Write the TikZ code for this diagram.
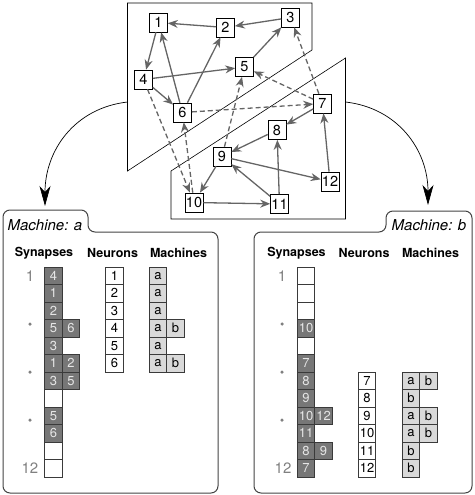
\documentclass[tikz,border=0pt]{standalone}
\usepackage{fontspec}
\setmainfont{TeX Gyre Heros}
\usetikzlibrary{arrows.meta}
\definecolor{edgegray}{HTML}{656565}
\definecolor{synfill}{HTML}{777777}
\definecolor{syntext}{HTML}{E6E6E6}
\definecolor{macfill}{HTML}{D9D9D9}
\definecolor{idxgray}{HTML}{808080}
\definecolor{panelline}{HTML}{444444}
\definecolor{cellline}{HTML}{3A3A3A}
\begin{document}
\begin{tikzpicture}[x=1pt,y=-1pt,
  gnode/.style={draw=black, fill=white, line width=0.6pt, minimum width=18pt, minimum height=19pt, inner sep=0pt, font=\fontsize{14.5}{15}\selectfont},
  edge/.style={draw=edgegray, line width=1.3pt, -{Stealth[length=10pt,width=8pt]}},
  dedge/.style={edge, dash pattern=on 5pt off 3pt},
  region/.style={draw=black, line width=0.6pt},
  panel/.style={draw=panelline, line width=1pt, rounded corners=7pt},
  bigarrow/.style={draw=black, line width=0.7pt, -{Stealth[length=20pt,width=11pt,inset=6pt]}},
  cellbase/.style={draw=cellline, line width=0.6pt, minimum width=17.5pt, minimum height=17.5pt, inner sep=0pt, font=\fontsize{13}{13}\selectfont},
  syncell/.style={cellbase, fill=synfill, text=syntext},
  emptycell/.style={cellbase, fill=white},
  neucell/.style={cellbase, fill=white},
  maccell/.style={cellbase, fill=macfill},
  hdr/.style={font=\bfseries\fontsize{12.5}{13}\selectfont, inner sep=0pt},
  mlabel/.style={font=\itshape\fontsize{15}{16}\selectfont, inner sep=0pt},
  idx/.style={text=idxgray, font=\fontsize{15}{15}\selectfont, inner sep=0pt},
  dotn/.style={circle, fill=idxgray, inner sep=0pt, minimum size=3.5pt}
]
\useasboundingbox (0,0) rectangle (474,495);

% regions of the graph
\draw[region] (127.5,3) -- (312,3) -- (312,50) -- (127.5,171) -- cycle;
\draw[region] (345.5,58) -- (345.5,219) -- (171,219) -- (171,171) -- cycle;

% graph nodes
\node[gnode] (n1) at (158.5,22.5) {1};
\node[gnode] (n2) at (225.5,27.5) {2};
\node[gnode] (n3) at (290.5,17.5) {3};
\node[gnode] (n4) at (143.5,79.5) {4};
\node[gnode] (n5) at (244.5,67) {5};
\node[gnode] (n6) at (182.5,112.5) {6};
\node[gnode] (n7) at (322.5,103.5) {7};
\node[gnode] (n8) at (277,130) {8};
\node[gnode] (n9) at (222,156.5) {9};
\node[gnode] (n10) at (194,202.5) {10};
\node[gnode] (n11) at (279.5,204) {11};
\node[gnode] (n12) at (330,181.5) {12};

% solid edges
\draw[edge] (n2) -- (n1);
\draw[edge] (n3) -- (n2);
\draw[edge] (n1) -- (n4);
\draw[edge] (n4) -- (n5);
\draw[edge] (n4) -- (n6);
\draw[edge] (n6) -- (n1);
\draw[edge] (n6) -- (n2);
\draw[edge] (n5) -- (n3);
\draw[edge] (n7) -- (n8);
\draw[edge] (n8) -- (n9);
\draw[edge] (n9) -- (n10);
\draw[edge] (n9) -- (n12);
\draw[edge] (n11) -- (n9);
\draw[edge] (n11) -- (n8);
\draw[edge] (n10) -- (n11);
\draw[edge] (n12) -- (n7);
% dashed edges
\draw[dedge] (n6) -- (n7);
\draw[dedge] (n7) -- (n5);
\draw[dedge] (n7) -- (n3);
\draw[dedge] (n4) -- (n10);
\draw[dedge] (n10) -- (n6);
\draw[dedge] (n9) -- (n5);

% curved arrows
\coordinate (ca) at (127.5,102);
\coordinate (ta) at (45,206);
\coordinate (cb) at (345.5,102);
\coordinate (tb) at (428,205);
\draw[bigarrow] (ca) .. controls (75,108) and (45,150) .. (ta);
\draw[bigarrow] (cb) .. controls (398,108) and (428,150) .. (tb);

% panels
\draw[panel] (3,493) -- (3,210) -- (88,210) -- (88,232) -- (218,232) -- (218,493) -- cycle;
\draw[panel] (254,493) -- (254,232) -- (386,232) -- (386,211) -- (472,211) -- (472,493) -- cycle;
\node[mlabel] (ma) at (45,225) {Machine: a};
\node[mlabel] (mb) at (429,225) {Machine: b};

% headers
\node[hdr] (ha1) at (44,253) {Synapses};
\node[hdr] (ha2) at (112.5,253) {Neurons};
\node[hdr] (ha3) at (178.5,253) {Machines};
\node[hdr] (hb1) at (296.5,253) {Synapses};
\node[hdr] (hb2) at (364,253) {Neurons};
\node[hdr] (hb3) at (430.5,253) {Machines};

% index labels
\node[idx] (ia1) at (30,276) {1};
\node[dotn] (da1) at (30,324) {};
\node[dotn] (da2) at (30,372) {};
\node[dotn] (da3) at (30,420) {};
\node[idx] (ia12) at (30,468) {12};
\node[idx] (ib1) at (282,276) {1};
\node[dotn] (db1) at (282,324) {};
\node[dotn] (db2) at (282,372) {};
\node[dotn] (db3) at (282,420) {};
\node[idx] (ib12) at (283,468) {12};

% machine a: synapses
\foreach \r/\t/\s in {1/4/syncell,2/1/syncell,3/2/syncell,4/5/syncell,5/3/syncell,6/1/syncell,7/3/syncell,8//emptycell,9/5/syncell,10/6/syncell,11//emptycell,12//emptycell}
  \node[\s] (sa\r) at (53.5,{275.75+17.5*(\r-1)}) {\t};
\foreach \r/\t in {4/6,6/2,7/5}
  \node[syncell] (sb\r) at (71,{275.75+17.5*(\r-1)}) {\t};
% machine a: neurons
\foreach \r in {1,...,6}
  \node[neucell] (na\r) at (114.5,{275.75+17.5*(\r-1)}) {\r};
% machine a: machines
\foreach \r in {1,...,6}
  \node[maccell] (ka\r) at (158,{275.75+17.5*(\r-1)}) {a};
\foreach \r in {4,6}
  \node[maccell] (kb\r) at (175.5,{275.75+17.5*(\r-1)}) {b};

% machine b: synapses
\foreach \r/\t/\s in {1//emptycell,2//emptycell,3//emptycell,4/10/syncell,5//emptycell,6/7/syncell,7/8/syncell,8/9/syncell,9/10/syncell,10/11/syncell,11/8/syncell,12/7/syncell}
  \node[\s] (tsa\r) at (306,{275.75+17.5*(\r-1)}) {\t};
\foreach \r/\t in {9/12,11/9}
  \node[syncell] (tsb\r) at (323.5,{275.75+17.5*(\r-1)}) {\t};
% machine b: neurons
\foreach \r in {7,...,12}
  \node[neucell] (tna\r) at (367,{275.75+17.5*(\r-1)}) {\r};
% machine b: machines
\foreach \r/\t in {7/a,8/b,9/a,10/a,11/b,12/b}
  \node[maccell] (tka\r) at (411,{275.75+17.5*(\r-1)}) {\t};
\foreach \r in {7,9,10}
  \node[maccell] (tkb\r) at (428.5,{275.75+17.5*(\r-1)}) {b};
\end{tikzpicture}
\end{document}
